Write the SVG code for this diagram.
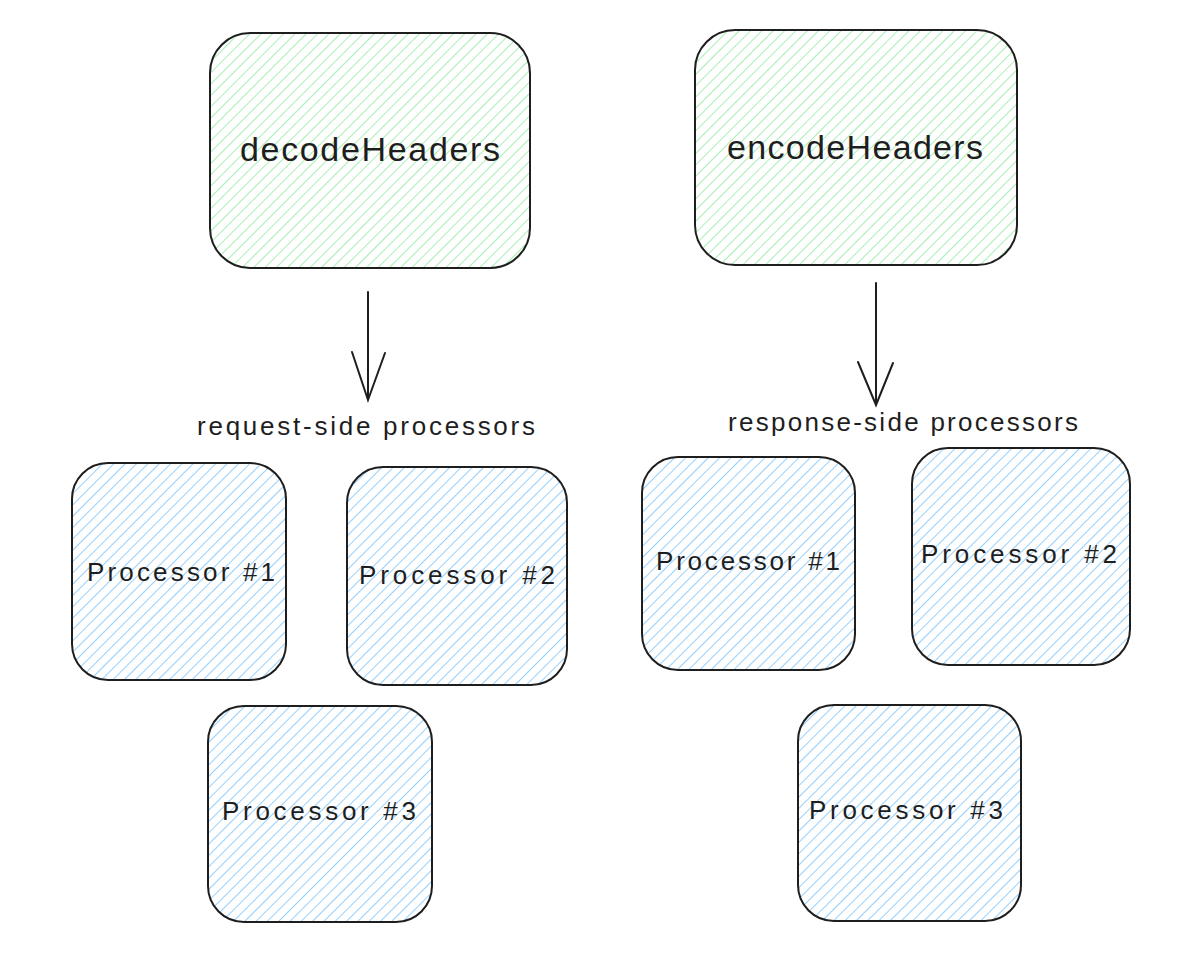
<svg xmlns="http://www.w3.org/2000/svg" width="1188" height="972" viewBox="0 0 1188 972">
<style>
.box{stroke:#1e1e1e;stroke-width:2}
.t{font-family:"Liberation Sans",sans-serif;fill:#1e1e1e;text-anchor:middle;dominant-baseline:middle}
.big{font-size:34px}
.mid{font-size:26px}
.conn{stroke:#1e1e1e;stroke-width:2;fill:none;stroke-linecap:round}
</style>
<defs>
<pattern id="hg" width="8" height="8" patternUnits="userSpaceOnUse" patternTransform="rotate(45)">
<rect width="8" height="8" fill="#ffffff"/><line x1="0" y1="0" x2="0" y2="8" stroke="#8ce99a" stroke-width="1.5"/></pattern>
<pattern id="hb" width="8" height="8" patternUnits="userSpaceOnUse" patternTransform="rotate(45)">
<rect width="8" height="8" fill="#ffffff"/><line x1="0" y1="0" x2="0" y2="8" stroke="#74c0fc" stroke-width="1.5"/></pattern>
</defs>
<rect width="1188" height="972" fill="#ffffff"/>
<g id="decodeHeaders"><rect class="box" x="210" y="33" width="320" height="235" rx="40" fill="url(#hg)"/><text class="t big" x="370" y="152" textLength="260" lengthAdjust="spacing">decodeHeaders</text></g>
<g id="encodeHeaders"><rect class="box" x="695" y="30" width="322" height="235" rx="40" fill="url(#hg)"/><text class="t big" x="855" y="150" textLength="256" lengthAdjust="spacing">encodeHeaders</text></g>
<g id="connectors">
<path class="conn" d="M368 292 L368 400 M352 352 L368 400 L385 353"/>
<path class="conn" d="M876 283 L876 405 M858 362 L876 405 L893 363"/>
</g>
<g id="reqLabel"><text class="t mid" x="366" y="428" textLength="338" lengthAdjust="spacing">request-side processors</text></g>
<g id="respLabel"><text class="t mid" x="903" y="424" textLength="350" lengthAdjust="spacing">response-side processors</text></g>
<g id="reqP1"><rect class="box" x="72" y="463" width="214" height="217" rx="36" fill="url(#hb)"/><text class="t mid" x="181" y="574" textLength="188" lengthAdjust="spacing">Processor #1</text></g>
<g id="reqP2"><rect class="box" x="347" y="467" width="220" height="218" rx="36" fill="url(#hb)"/><text class="t mid" x="457" y="577" textLength="196" lengthAdjust="spacing">Processor #2</text></g>
<g id="reqP3"><rect class="box" x="208" y="706" width="224" height="216" rx="36" fill="url(#hb)"/><text class="t mid" x="319" y="813" textLength="194" lengthAdjust="spacing">Processor #3</text></g>
<g id="respP1"><rect class="box" x="642" y="457" width="213" height="213" rx="36" fill="url(#hb)"/><text class="t mid" x="748" y="563" textLength="184" lengthAdjust="spacing">Processor #1</text></g>
<g id="respP2"><rect class="box" x="912" y="448" width="218" height="217" rx="36" fill="url(#hb)"/><text class="t mid" x="1019" y="556" textLength="196" lengthAdjust="spacing">Processor #2</text></g>
<g id="respP3"><rect class="box" x="798" y="705" width="223" height="216" rx="36" fill="url(#hb)"/><text class="t mid" x="906" y="812" textLength="194" lengthAdjust="spacing">Processor #3</text></g>
</svg>
